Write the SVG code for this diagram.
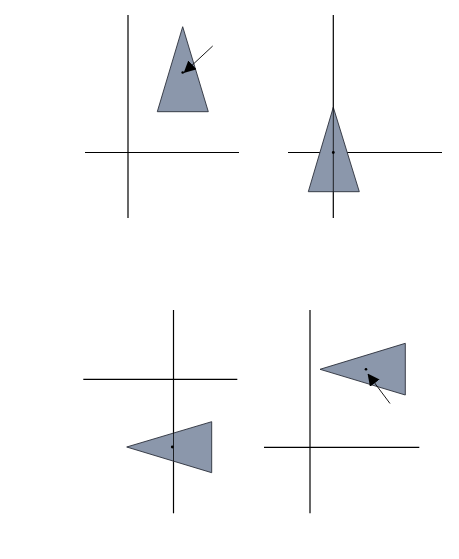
<svg xmlns="http://www.w3.org/2000/svg" width="459" height="559" viewBox="0 0 459 559">
<style>
.axis{stroke:#000;stroke-width:1.2;fill:none}
.tri{fill:#8b97ab;stroke:#2a2f3a;stroke-width:0.9}
.dot{fill:#000}
.arrow{stroke:#000;stroke-width:0.9;fill:none;marker-end:url(#ah)}
</style>
<defs>
<marker id="ah" viewBox="0 0 10 10" refX="9" refY="5" markerWidth="12" markerHeight="12" markerUnits="userSpaceOnUse" orient="auto">
<path d="M0,0 L10,5 L0,10 Z" fill="#000"/>
</marker>
</defs>
<rect width="459" height="559" fill="#fff"/>
<g id="panel1">
<line class="axis" x1="128" y1="15" x2="128" y2="218"/>
<line class="axis" x1="85" y1="152.5" x2="239" y2="152.5"/>
<polygon class="tri" points="182.7,26.7 157.3,111.7 208.3,111.7"/>
<circle class="dot" cx="182.7" cy="72.5" r="1.3"/>
</g>
<g id="panel2">
<line class="axis" x1="333.3" y1="15" x2="333.3" y2="218"/>
<line class="axis" x1="288" y1="152.5" x2="442" y2="152.5"/>
<polygon class="tri" points="333.3,107.3 308.3,191.7 359.3,191.7"/>
<line stroke="#000" stroke-width="0.8" x1="333.3" y1="107.3" x2="333.3" y2="191.7"/>
<circle class="dot" cx="333.3" cy="152.5" r="1.4"/>
</g>
<g id="panel3">
<line class="axis" x1="173.5" y1="310" x2="173.5" y2="513.3"/>
<line class="axis" x1="83.3" y1="379.3" x2="237.3" y2="379.3"/>
<polygon class="tri" points="126.7,447 211.7,421.7 211.7,472.7"/>
<line stroke="#000" stroke-width="0.8" x1="173.5" y1="433" x2="173.5" y2="461"/>
<circle class="dot" cx="172.3" cy="447" r="1.4"/>
</g>
<g id="panel4">
<line class="axis" x1="310" y1="310" x2="310" y2="513.3"/>
<line class="axis" x1="264" y1="447.3" x2="419.3" y2="447.3"/>
<polygon class="tri" points="320,369.3 405.3,343.3 405.3,395"/>
<circle class="dot" cx="366" cy="369.3" r="1.3"/>
</g>
<g id="connectors">
<line class="arrow" x1="212.7" y1="46" x2="184.5" y2="72.3"/>
<line class="arrow" x1="390" y1="403.5" x2="368.3" y2="374.5"/>
</g>
</svg>
